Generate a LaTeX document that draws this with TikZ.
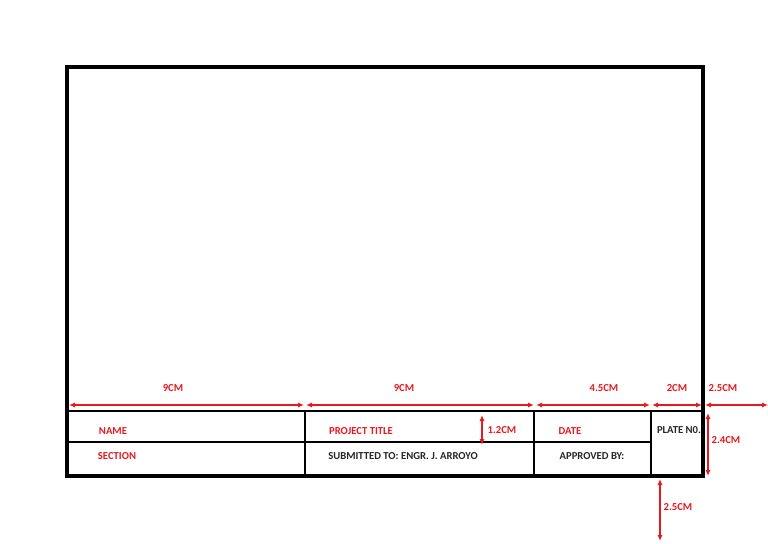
\documentclass[tikz,border=0pt]{standalone}
\usepackage{fontspec}
\setmainfont{Carlito}
\usetikzlibrary{arrows.meta}
\definecolor{dimred}{RGB}{232,24,28}
\tikzset{
  frameline/.style={line width=2.3pt, black},
  gridline/.style={line width=1.8pt, black},
  dimline/.style={dimred, line width=1pt, {Latex[length=4.5pt,width=3.8pt]}-{Latex[length=4.5pt,width=3.8pt]}},
  dimlabel/.style={text=dimred, font=\fontsize{8}{9.5}\selectfont\bfseries, inner sep=0pt},
  redtext/.style={text=dimred, font=\fontsize{8}{9.5}\selectfont\bfseries, inner sep=0pt},
  blacktext/.style={text=black!85, font=\fontsize{8}{9.5}\selectfont\bfseries, inner sep=0pt}
}
\begin{document}
\begin{tikzpicture}[x=0.75pt,y=-0.75pt]
\useasboundingbox (0,0) rectangle (768,543);
% frame
\draw[frameline] (67,67) rectangle (703,476);
\draw[gridline] (67,411) -- (703,411);
\draw[gridline] (67,442) -- (651,442);
\draw[gridline] (305,411) -- (305,476);
\draw[gridline] (534,411) -- (534,476);
\draw[gridline] (651,411) -- (651,476);
% dimension coordinates
\coordinate (h0) at (69,405);
\coordinate (h1a) at (304,405);
\coordinate (h1b) at (306,405);
\coordinate (h2a) at (534,405);
\coordinate (h2b) at (536,405);
\coordinate (h3a) at (650,405);
\coordinate (h3b) at (652,405);
\coordinate (h4a) at (702,405);
\coordinate (h4b) at (705,405);
\coordinate (h5) at (768,405);
\coordinate (v1a) at (482,415);
\coordinate (v1b) at (482,445);
\coordinate (v2a) at (708,413);
\coordinate (v2b) at (708,476);
\coordinate (v3a) at (660,479);
\coordinate (v3b) at (660,541);
\draw[dimline] (h0) -- (h1a);
\draw[dimline] (h1b) -- (h2a);
\draw[dimline] (h2b) -- (h3a);
\draw[dimline] (h3b) -- (h4a);
\draw[dimline] (h4b) -- (h5);
\draw[dimline] (v1a) -- (v1b);
\draw[dimline] (v2a) -- (v2b);
\draw[dimline] (v3a) -- (v3b);
% dimension labels
\node[dimlabel] (d1) at (173,388) {9CM};
\node[dimlabel] (d2) at (404,388) {9CM};
\node[dimlabel] (d3) at (604,388) {4.5CM};
\node[dimlabel] (d4) at (677,388) {2CM};
\node[dimlabel] (d5) at (723,388) {2.5CM};
\node[dimlabel] (d6) at (502,430) {1.2CM};
\node[dimlabel] (d7) at (726,440) {2.4CM};
\node[dimlabel] (d8) at (678,507) {2.5CM};
% cell texts
\node[redtext] (name) at (113,431) {NAME};
\node[redtext] (section) at (117,456) {SECTION};
\node[redtext] (ptitle) at (361,431) {PROJECT TITLE};
\node[blacktext] (subm) at (403,456) {SUBMITTED TO: ENGR. J. ARROYO};
\node[redtext] (date) at (570,431) {DATE};
\node[blacktext] (appr) at (592,456) {APPROVED BY:};
\node[blacktext] (plate) at (679,430) {PLATE N0.};
\end{tikzpicture}
\end{document}
